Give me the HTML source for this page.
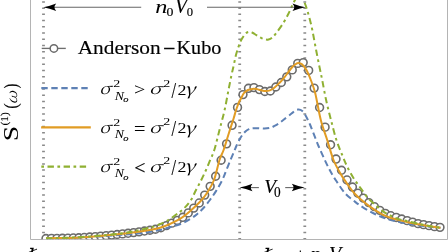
<!DOCTYPE html>
<html><head><meta charset="utf-8"><style>
html,body{margin:0;padding:0;background:#fff;overflow:hidden;}
svg{display:block;}
text{font-family:'Liberation Serif', 'DejaVu Serif', serif;fill:#000;stroke:#000;stroke-width:0.15px;}
</style></head><body>
<svg width="448" height="252" viewBox="0 0 448 252">
<rect width="448" height="252" fill="#fff"/>
<path d="M30.5,-1 V239.5 H447.5 V-1" fill="none" stroke="#b4b4b4" stroke-width="1"/>
<line x1="43.5" y1="-2" x2="43.5" y2="239" stroke="#8a8a8a" stroke-width="2.8" stroke-dasharray="1.5 4.73" stroke-dashoffset="-3.15"/>
<line x1="239.7" y1="-2" x2="239.7" y2="239" stroke="#8a8a8a" stroke-width="2.8" stroke-dasharray="1.5 4.73" stroke-dashoffset="-3.15"/>
<line x1="304.8" y1="-2" x2="304.8" y2="239" stroke="#8a8a8a" stroke-width="2.8" stroke-dasharray="1.5 4.73" stroke-dashoffset="-3.15"/>
<defs><clipPath id="pc"><rect x="31" y="-10" width="416" height="249.2"/></clipPath></defs>
<g clip-path="url(#pc)">
<g fill="#fff" stroke="#6c6c6c" stroke-width="1.6">
<circle cx="46.00" cy="238.50" r="3.9"/>
<circle cx="51.47" cy="238.44" r="3.9"/>
<circle cx="56.94" cy="238.36" r="3.9"/>
<circle cx="62.42" cy="238.25" r="3.9"/>
<circle cx="67.89" cy="238.12" r="3.9"/>
<circle cx="73.36" cy="237.97" r="3.9"/>
<circle cx="78.83" cy="237.76" r="3.9"/>
<circle cx="84.31" cy="237.45" r="3.9"/>
<circle cx="89.78" cy="237.05" r="3.9"/>
<circle cx="95.25" cy="236.61" r="3.9"/>
<circle cx="100.72" cy="236.14" r="3.9"/>
<circle cx="106.19" cy="235.63" r="3.9"/>
<circle cx="111.67" cy="235.09" r="3.9"/>
<circle cx="117.14" cy="234.52" r="3.9"/>
<circle cx="122.61" cy="233.91" r="3.9"/>
<circle cx="128.08" cy="233.28" r="3.9"/>
<circle cx="133.56" cy="232.61" r="3.9"/>
<circle cx="139.03" cy="231.85" r="3.9"/>
<circle cx="144.50" cy="231.05" r="3.9"/>
<circle cx="149.97" cy="230.26" r="3.9"/>
<circle cx="155.44" cy="229.23" r="3.9"/>
<circle cx="160.92" cy="227.70" r="3.9"/>
<circle cx="166.39" cy="225.61" r="3.9"/>
<circle cx="171.86" cy="223.16" r="3.9"/>
<circle cx="177.33" cy="220.43" r="3.9"/>
<circle cx="182.81" cy="217.31" r="3.9"/>
<circle cx="188.28" cy="212.91" r="3.9"/>
<circle cx="193.75" cy="208.10" r="3.9"/>
<circle cx="199.22" cy="202.97" r="3.9"/>
<circle cx="204.69" cy="195.11" r="3.9"/>
<circle cx="210.17" cy="186.36" r="3.9"/>
<circle cx="215.64" cy="176.27" r="3.9"/>
<circle cx="221.11" cy="160.27" r="3.9"/>
<circle cx="226.58" cy="143.86" r="3.9"/>
<circle cx="232.06" cy="125.32" r="3.9"/>
<circle cx="237.53" cy="107.42" r="3.9"/>
<circle cx="243.00" cy="94.60" r="3.9"/>
<circle cx="248.47" cy="88.32" r="3.9"/>
<circle cx="253.94" cy="87.61" r="3.9"/>
<circle cx="259.42" cy="89.61" r="3.9"/>
<circle cx="264.89" cy="91.50" r="3.9"/>
<circle cx="270.36" cy="91.01" r="3.9"/>
<circle cx="275.83" cy="86.98" r="3.9"/>
<circle cx="281.31" cy="82.50" r="3.9"/>
<circle cx="286.78" cy="76.83" r="3.9"/>
<circle cx="292.25" cy="69.92" r="3.9"/>
<circle cx="297.72" cy="63.38" r="3.9"/>
<circle cx="303.19" cy="62.60" r="3.9"/>
<circle cx="308.67" cy="70.43" r="3.9"/>
<circle cx="314.14" cy="88.09" r="3.9"/>
<circle cx="319.61" cy="107.55" r="3.9"/>
<circle cx="325.08" cy="127.15" r="3.9"/>
<circle cx="330.56" cy="144.79" r="3.9"/>
<circle cx="336.03" cy="159.06" r="3.9"/>
<circle cx="341.50" cy="170.30" r="3.9"/>
<circle cx="346.97" cy="179.95" r="3.9"/>
<circle cx="352.44" cy="187.06" r="3.9"/>
<circle cx="357.92" cy="193.22" r="3.9"/>
<circle cx="363.39" cy="198.14" r="3.9"/>
<circle cx="368.86" cy="202.65" r="3.9"/>
<circle cx="374.33" cy="206.67" r="3.9"/>
<circle cx="379.81" cy="210.35" r="3.9"/>
<circle cx="385.28" cy="213.44" r="3.9"/>
<circle cx="390.75" cy="215.71" r="3.9"/>
<circle cx="396.22" cy="217.44" r="3.9"/>
<circle cx="401.69" cy="219.02" r="3.9"/>
<circle cx="407.17" cy="220.65" r="3.9"/>
<circle cx="412.64" cy="222.17" r="3.9"/>
<circle cx="418.11" cy="223.64" r="3.9"/>
<circle cx="423.58" cy="224.64" r="3.9"/>
<circle cx="429.06" cy="225.65" r="3.9"/>
<circle cx="434.53" cy="226.63" r="3.9"/>
<circle cx="440.00" cy="227.34" r="3.9"/>
</g>
<path d="M46.00,238.50 C50.00,238.42 61.00,238.35 70.00,238.00 C79.00,237.65 88.33,237.20 100.00,236.40 C111.67,235.60 130.00,234.28 140.00,233.20 C150.00,232.12 155.00,230.90 160.00,229.90 C165.00,228.90 166.67,228.13 170.00,227.20 C173.33,226.27 176.67,225.63 180.00,224.30 C183.33,222.97 187.17,220.88 190.00,219.20 C192.83,217.52 194.83,215.98 197.00,214.20 C199.17,212.42 200.92,210.78 203.00,208.50 C205.08,206.22 207.33,203.40 209.50,200.50 C211.67,197.60 213.87,194.52 216.00,191.10 C218.13,187.68 220.57,183.52 222.30,180.00 C224.03,176.48 225.03,173.33 226.40,170.00 C227.77,166.67 229.23,163.03 230.50,160.00 C231.77,156.97 232.98,154.22 234.00,151.80 C235.02,149.38 235.60,147.70 236.60,145.50 C237.60,143.30 238.93,140.48 240.00,138.60 C241.07,136.72 242.00,135.47 243.00,134.20 C244.00,132.93 245.00,131.83 246.00,131.00 C247.00,130.17 248.00,129.65 249.00,129.20 C250.00,128.75 250.50,128.47 252.00,128.30 C253.50,128.13 255.92,128.17 258.00,128.20 C260.08,128.23 262.50,128.57 264.50,128.50 C266.50,128.43 268.42,128.18 270.00,127.80 C271.58,127.42 272.50,126.95 274.00,126.20 C275.50,125.45 277.40,124.37 279.00,123.30 C280.60,122.23 281.52,121.43 283.60,119.80 C285.68,118.17 289.60,115.03 291.50,113.50 C293.40,111.97 293.93,111.25 295.00,110.60 C296.07,109.95 296.98,109.72 297.90,109.60 C298.82,109.48 299.72,109.62 300.50,109.90 C301.28,110.18 301.85,110.53 302.60,111.30 C303.35,112.07 304.20,113.22 305.00,114.50 C305.80,115.78 306.57,117.33 307.40,119.00 C308.23,120.67 309.08,122.38 310.00,124.50 C310.92,126.62 311.48,128.12 312.90,131.70 C314.32,135.28 316.52,141.28 318.50,146.00 C320.48,150.72 322.88,155.92 324.80,160.00 C326.72,164.08 328.13,167.08 330.00,170.50 C331.87,173.92 333.50,176.72 336.00,180.50 C338.50,184.28 341.85,189.68 345.00,193.20 C348.15,196.72 352.40,199.57 354.90,201.60 C357.40,203.63 357.83,203.93 360.00,205.40 C362.17,206.87 365.25,208.88 367.90,210.40 C370.55,211.92 373.25,213.27 375.90,214.50 C378.55,215.73 381.17,216.85 383.80,217.80 C386.43,218.75 388.78,219.42 391.70,220.20 C394.62,220.98 397.92,221.80 401.30,222.50 C404.68,223.20 408.05,223.78 412.00,224.40 C415.95,225.02 420.25,225.63 425.00,226.20 C429.75,226.77 437.92,227.53 440.50,227.80" fill="none" stroke="#5E81B5" stroke-width="2" stroke-dasharray="6.4 3.6"/>
<path d="M46.00,238.30 C48.33,238.27 54.33,238.23 60.00,238.10 C65.67,237.97 73.33,237.85 80.00,237.50 C86.67,237.15 93.33,236.58 100.00,236.00 C106.67,235.42 113.33,234.75 120.00,234.00 C126.67,233.25 133.33,232.53 140.00,231.50 C146.67,230.47 153.33,229.92 160.00,227.80 C166.67,225.68 175.00,221.57 180.00,218.80 C185.00,216.03 186.67,214.03 190.00,211.20 C193.33,208.37 197.17,204.83 200.00,201.80 C202.83,198.77 204.67,196.63 207.00,193.00 C209.33,189.37 211.92,185.50 214.00,180.00 C216.08,174.50 217.90,165.00 219.50,160.00 C221.10,155.00 222.13,154.17 223.60,150.00 C225.07,145.83 226.63,140.25 228.30,135.00 C229.97,129.75 232.38,122.42 233.60,118.50 C234.82,114.58 234.95,113.58 235.60,111.50 C236.25,109.42 236.85,107.70 237.50,106.00 C238.15,104.30 238.78,102.80 239.50,101.30 C240.22,99.80 241.07,98.35 241.80,97.00 C242.53,95.65 242.88,94.37 243.90,93.20 C244.92,92.03 246.48,90.72 247.90,90.00 C249.32,89.28 250.97,89.07 252.40,88.90 C253.83,88.73 255.40,88.87 256.50,89.00 C257.60,89.13 257.67,89.37 259.00,89.70 C260.33,90.03 262.67,90.88 264.50,91.00 C266.33,91.12 268.42,90.90 270.00,90.40 C271.58,89.90 272.50,89.17 274.00,88.00 C275.50,86.83 277.40,85.00 279.00,83.40 C280.60,81.80 281.52,80.97 283.60,78.40 C285.68,75.83 289.52,70.37 291.50,68.00 C293.48,65.63 294.32,65.05 295.50,64.20 C296.68,63.35 297.52,62.88 298.60,62.90 C299.68,62.92 300.72,63.15 302.00,64.30 C303.28,65.45 304.80,67.10 306.30,69.80 C307.80,72.50 309.50,76.55 311.00,80.50 C312.50,84.45 313.67,86.92 315.30,93.50 C316.93,100.08 318.82,112.25 320.80,120.00 C322.78,127.75 325.08,133.33 327.20,140.00 C329.32,146.67 331.20,154.25 333.50,160.00 C335.80,165.75 339.08,171.07 341.00,174.50 C342.92,177.93 343.35,178.18 345.00,180.60 C346.65,183.02 349.23,186.77 350.90,189.00 C352.57,191.23 353.48,192.38 355.00,194.00 C356.52,195.62 357.85,196.85 360.00,198.70 C362.15,200.55 365.25,203.12 367.90,205.10 C370.55,207.08 373.25,208.92 375.90,210.60 C378.55,212.28 381.17,213.93 383.80,215.20 C386.43,216.47 389.05,217.37 391.70,218.20 C394.35,219.03 397.05,219.53 399.70,220.20 C402.35,220.87 404.22,221.47 407.60,222.20 C410.98,222.93 416.27,223.92 420.00,224.60 C423.73,225.28 426.58,225.77 430.00,226.30 C433.42,226.83 438.75,227.55 440.50,227.80" fill="none" stroke="#E19C24" stroke-width="2"/>
<path d="M46.00,238.30 C50.00,238.18 61.00,238.05 70.00,237.60 C79.00,237.15 90.00,236.53 100.00,235.60 C110.00,234.67 120.00,233.88 130.00,232.00 C140.00,230.12 151.67,227.68 160.00,224.30 C168.33,220.92 175.00,215.50 180.00,211.70 C185.00,207.90 187.33,205.12 190.00,201.50 C192.67,197.88 194.12,193.58 196.00,190.00 C197.88,186.42 199.63,183.33 201.30,180.00 C202.97,176.67 204.52,173.33 206.00,170.00 C207.48,166.67 208.82,163.33 210.20,160.00 C211.58,156.67 212.75,155.00 214.30,150.00 C215.85,145.00 217.78,136.67 219.50,130.00 C221.22,123.33 223.10,116.67 224.60,110.00 C226.10,103.33 227.35,95.83 228.50,90.00 C229.65,84.17 230.62,79.17 231.50,75.00 C232.38,70.83 233.07,68.30 233.80,65.00 C234.53,61.70 235.15,58.13 235.90,55.20 C236.65,52.27 237.57,49.63 238.30,47.40 C239.03,45.17 239.62,43.37 240.30,41.80 C240.98,40.23 241.65,39.25 242.40,38.00 C243.15,36.75 244.03,35.22 244.80,34.30 C245.57,33.38 246.22,32.90 247.00,32.50 C247.78,32.10 248.67,31.90 249.50,31.90 C250.33,31.90 251.13,32.15 252.00,32.50 C252.87,32.85 253.70,33.38 254.70,34.00 C255.70,34.62 256.88,35.52 258.00,36.20 C259.12,36.88 260.23,37.57 261.40,38.10 C262.57,38.63 263.82,39.17 265.00,39.40 C266.18,39.63 267.33,39.77 268.50,39.50 C269.67,39.23 270.82,38.75 272.00,37.80 C273.18,36.85 273.80,36.13 275.60,33.80 C277.40,31.47 280.68,27.10 282.80,23.80 C284.92,20.50 286.68,17.13 288.30,14.00 C289.92,10.87 291.30,7.43 292.50,5.00 C293.70,2.57 294.42,0.67 295.50,-0.60 C296.58,-1.87 297.83,-2.45 299.00,-2.60 C300.17,-2.75 301.42,-2.77 302.50,-1.50 C303.58,-0.23 304.65,2.83 305.50,5.00 C306.35,7.17 306.83,8.90 307.60,11.50 C308.37,14.10 309.32,17.52 310.10,20.60 C310.88,23.68 311.30,25.10 312.30,30.00 C313.30,34.90 314.80,43.33 316.10,50.00 C317.40,56.67 319.08,65.00 320.10,70.00 C321.12,75.00 321.20,75.00 322.20,80.00 C323.20,85.00 324.63,93.33 326.10,100.00 C327.57,106.67 329.28,113.33 331.00,120.00 C332.72,126.67 334.53,134.17 336.40,140.00 C338.27,145.83 340.43,150.63 342.20,155.00 C343.97,159.37 345.30,162.65 347.00,166.20 C348.70,169.75 350.73,173.47 352.40,176.30 C354.07,179.13 355.45,180.98 357.00,183.20 C358.55,185.42 359.88,187.13 361.70,189.60 C363.52,192.07 365.53,195.35 367.90,198.00 C370.27,200.65 373.25,203.20 375.90,205.50 C378.55,207.80 381.17,210.02 383.80,211.80 C386.43,213.58 389.05,214.93 391.70,216.20 C394.35,217.47 397.05,218.57 399.70,219.40 C402.35,220.23 404.22,220.42 407.60,221.20 C410.98,221.98 416.27,223.27 420.00,224.10 C423.73,224.93 426.58,225.58 430.00,226.20 C433.42,226.82 438.75,227.53 440.50,227.80" fill="none" stroke="#8FB032" stroke-width="2" stroke-dasharray="6.4 3.5 2.7 3.5"/>
</g>
<line x1="48" y1="7.3" x2="141.2" y2="7.3" stroke="#666" stroke-width="1.1"/>
<line x1="207" y1="7.3" x2="300" y2="7.3" stroke="#666" stroke-width="1.1"/>
<path d="M43.3,7.3 Q49.3,6.3 56.20,3.55 Q54.20,6.10 54.50,7.3 Q54.20,8.50 56.20,11.05 Q49.3,8.3 43.3,7.3 Z" fill="#000"/>
<path d="M305.4,7.3 Q299.4,6.3 292.50,3.55 Q294.50,6.10 294.20,7.3 Q294.50,8.50 292.50,11.05 Q299.4,8.3 305.4,7.3 Z" fill="#000"/>
<line x1="245" y1="187.6" x2="258.9" y2="187.6" stroke="#666" stroke-width="1.1"/>
<line x1="285.2" y1="187.6" x2="299" y2="187.6" stroke="#666" stroke-width="1.1"/>
<path d="M239.6,187.6 Q245.6,186.6 252.50,183.85 Q250.50,186.40 250.80,187.6 Q250.50,188.80 252.50,191.35 Q245.6,188.6 239.6,187.6 Z" fill="#000"/>
<path d="M304.7,187.6 Q298.7,186.6 291.80,183.85 Q293.80,186.40 293.50,187.6 Q293.80,188.80 291.80,191.35 Q298.7,188.6 304.7,187.6 Z" fill="#000"/>
<line x1="41.7" y1="48.4" x2="65.8" y2="48.4" stroke="#6e6e6e" stroke-width="1.35"/>
<circle cx="53.9" cy="48.4" r="3.75" fill="#fff" stroke="#6a6a6a" stroke-width="1.5"/>
<line x1="41.3" y1="88.1" x2="88" y2="88.1" stroke="#5E81B5" stroke-width="2.1" stroke-dasharray="6.4 3.6"/>
<line x1="41.1" y1="127.35" x2="90.8" y2="127.35" stroke="#E19C24" stroke-width="2.1"/>
<line x1="41.3" y1="166.6" x2="86.5" y2="166.6" stroke="#8FB032" stroke-width="2.1" stroke-dasharray="2.7 3.5 6.4 3.5"/>
<text transform="translate(77.69,54.01) scale(1.107,1)" font-size="19.29">Anderson</text>
<text transform="translate(176.49,54.01) scale(1.047,1)" font-size="19.29">Kubo</text>
<text transform="translate(163.3,55.1) scale(1.1,1)" font-size="19.3" style="stroke-width:0.45">−</text>
<text transform="translate(99.26,94.24) scale(1.177,1)" font-size="15.66" font-style="italic" style="font-family:'Noto Serif CJK SC','Liberation Serif',serif;stroke-width:0">σ</text>
<text transform="translate(113.34,87.00) scale(1.300,1)" font-size="10.77" style="stroke-width:0">2</text>
<text transform="translate(114.64,99.50) scale(1.157,1)" font-size="12.00" font-style="italic" style="stroke-width:0">N</text>
<text transform="translate(123.29,102.11) scale(1.140,1)" font-size="9.17" font-style="italic">o</text>
<text transform="translate(134.09,94.86) scale(1.169,1)" font-size="17.29" style="stroke-width:0">></text>
<text transform="translate(148.88,94.25) scale(1.352,1)" font-size="14.91" font-style="italic" style="font-family:'Noto Serif CJK SC','Liberation Serif',serif;stroke-width:0">σ</text>
<text transform="translate(163.34,86.70) scale(1.338,1)" font-size="10.46" style="stroke-width:0">2</text>
<text transform="translate(171.60,97.66) scale(0.682,1)" font-size="24.09">/</text>
<text transform="translate(177.58,94.80) scale(1.206,1)" font-size="14.92" style="stroke-width:0">2</text>
<text transform="translate(184.10,94.91) scale(1.252,1)" font-size="16.62" font-style="italic" style="font-family:'Noto Serif CJK SC','Liberation Serif',serif;stroke-width:0">γ</text>
<text transform="translate(99.26,132.84) scale(1.177,1)" font-size="15.66" font-style="italic" style="font-family:'Noto Serif CJK SC','Liberation Serif',serif;stroke-width:0">σ</text>
<text transform="translate(113.34,125.60) scale(1.300,1)" font-size="10.77" style="stroke-width:0">2</text>
<text transform="translate(114.64,138.10) scale(1.157,1)" font-size="12.00" font-style="italic" style="stroke-width:0">N</text>
<text transform="translate(123.29,140.71) scale(1.140,1)" font-size="9.17" font-style="italic">o</text>
<text transform="translate(134.09,134.58) scale(1.123,1)" font-size="18.00">=</text>
<text transform="translate(148.88,132.85) scale(1.352,1)" font-size="14.91" font-style="italic" style="font-family:'Noto Serif CJK SC','Liberation Serif',serif;stroke-width:0">σ</text>
<text transform="translate(163.34,125.30) scale(1.338,1)" font-size="10.46" style="stroke-width:0">2</text>
<text transform="translate(171.60,136.26) scale(0.682,1)" font-size="24.09">/</text>
<text transform="translate(177.58,133.40) scale(1.206,1)" font-size="14.92" style="stroke-width:0">2</text>
<text transform="translate(184.10,133.51) scale(1.252,1)" font-size="16.62" font-style="italic" style="font-family:'Noto Serif CJK SC','Liberation Serif',serif;stroke-width:0">γ</text>
<text transform="translate(99.26,171.74) scale(1.177,1)" font-size="15.66" font-style="italic" style="font-family:'Noto Serif CJK SC','Liberation Serif',serif;stroke-width:0">σ</text>
<text transform="translate(113.34,164.50) scale(1.300,1)" font-size="10.77" style="stroke-width:0">2</text>
<text transform="translate(114.64,177.00) scale(1.157,1)" font-size="12.00" font-style="italic" style="stroke-width:0">N</text>
<text transform="translate(123.29,179.61) scale(1.140,1)" font-size="9.17" font-style="italic">o</text>
<text transform="translate(134.31,173.69) scale(1.045,1)" font-size="18.94"><</text>
<text transform="translate(148.88,171.75) scale(1.352,1)" font-size="14.91" font-style="italic" style="font-family:'Noto Serif CJK SC','Liberation Serif',serif;stroke-width:0">σ</text>
<text transform="translate(163.34,164.20) scale(1.338,1)" font-size="10.46" style="stroke-width:0">2</text>
<text transform="translate(171.60,175.16) scale(0.682,1)" font-size="24.09">/</text>
<text transform="translate(177.58,172.30) scale(1.206,1)" font-size="14.92" style="stroke-width:0">2</text>
<text transform="translate(184.10,172.41) scale(1.252,1)" font-size="16.62" font-style="italic" style="font-family:'Noto Serif CJK SC','Liberation Serif',serif;stroke-width:0">γ</text>
<text transform="translate(155.23,13.00) scale(1.227,1)" font-size="19.79" font-style="italic" style="stroke-width:0">n</text>
<text transform="translate(166.45,16.16) scale(1.128,1)" font-size="12.24">0</text>
<text transform="translate(174.91,12.70) scale(0.992,1)" font-size="20.00" font-style="italic">V</text>
<text transform="translate(186.70,16.16) scale(1.031,1)" font-size="12.24">0</text>
<text transform="translate(264.14,193.43) scale(1.048,1)" font-size="18.36" font-style="italic">V</text>
<text transform="translate(274.07,196.82) scale(0.950,1)" font-size="14.03">0</text>
<g transform="rotate(-90)">
<text transform="translate(-141.23,17.89) scale(1.351,1)" font-size="20.45" style="stroke-width:0">S</text>
<text transform="translate(-125.46,8.34) scale(1.057,1)" font-size="10.78">(1)</text>
<text transform="translate(-108.86,16.83) scale(0.897,1)" font-size="18.44">(</text>
<text transform="translate(-104.38,16.66) scale(1.172,1)" font-size="14.34" font-style="italic" style="font-family:'Noto Serif CJK SC','Liberation Serif',serif;stroke-width:0">ω</text>
<text transform="translate(-88.44,16.83) scale(0.792,1)" font-size="18.44">)</text>
</g>
<text font-style="italic" x="28.0" y="262.5" font-size="20">ℏω</text>
<text font-style="italic" x="263.6" y="262.5" font-size="20">ℏω</text>
<text x="294.7" y="262.6" font-size="20">+</text>
<text font-style="italic" x="310.8" y="261.2" font-size="20">n</text>
<text font-style="italic" x="329.0" y="261.1" font-size="20">V</text>
</svg>
</body></html>
